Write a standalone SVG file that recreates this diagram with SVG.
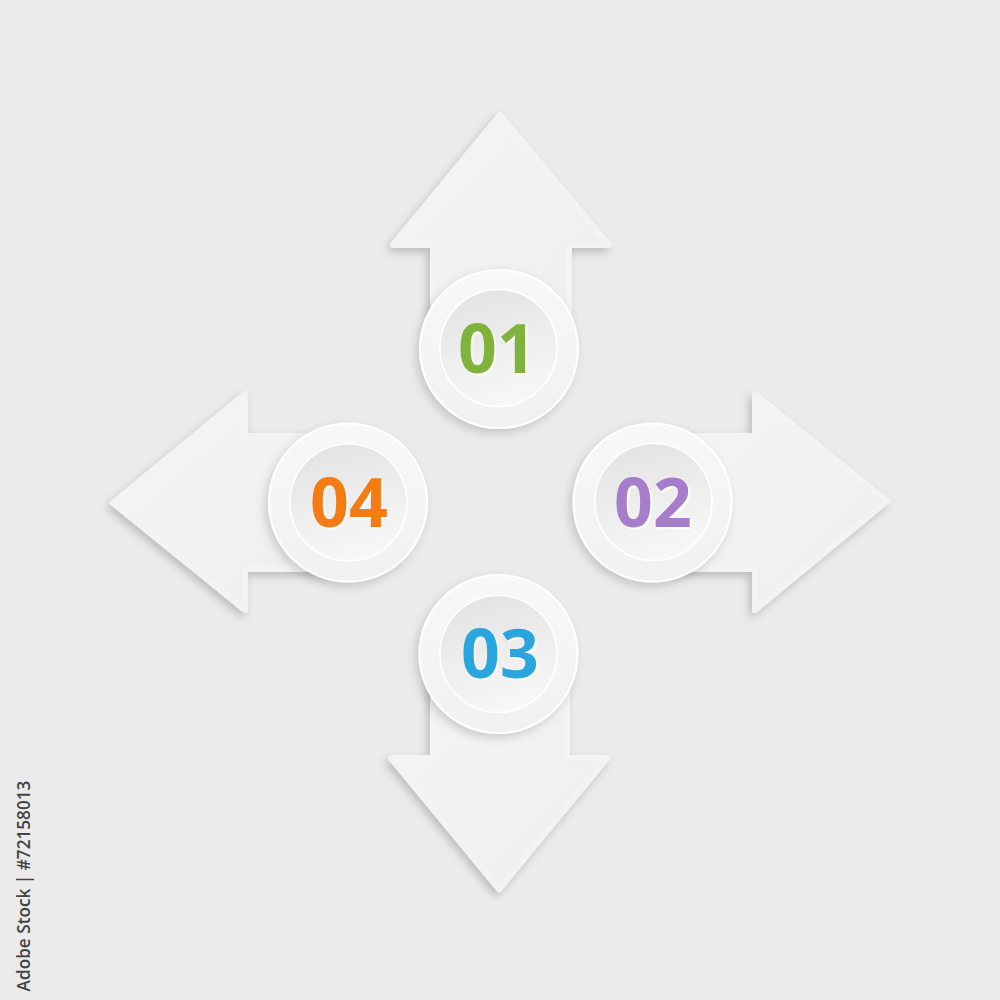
<svg xmlns="http://www.w3.org/2000/svg" width="1000" height="1000" viewBox="0 0 1000 1000">
<defs>
  <linearGradient id="gArrow" x1="0" y1="0" x2="1" y2="1">
    <stop offset="0" stop-color="#f5f5f5"/>
    <stop offset="1" stop-color="#eeeeee"/>
  </linearGradient>
  <linearGradient id="gOuter" x1="0" y1="0" x2="0" y2="1">
    <stop offset="0" stop-color="#f8f8f8"/>
    <stop offset="1" stop-color="#f1f1f1"/>
  </linearGradient>
  <linearGradient id="gInner" x1="0.3" y1="0" x2="0.6" y2="1">
    <stop offset="0" stop-color="#e3e3e3"/>
    <stop offset="1" stop-color="#f8f8f8"/>
  </linearGradient>
  <filter id="shadow" x="-30%" y="-30%" width="160%" height="160%">
    <feDropShadow dx="-3" dy="4" stdDeviation="4" flood-color="#000" flood-opacity="0.2"/>
  </filter>
  <filter id="cshadow" x="-30%" y="-30%" width="160%" height="160%">
    <feDropShadow dx="-3" dy="4" stdDeviation="5" flood-color="#000" flood-opacity="0.16"/>
  </filter>
</defs>
<style>
  .arrow { fill: url(#gArrow); stroke: #f3f3f3; stroke-width: 6; stroke-linejoin: round; filter: url(#shadow); }
  .outer { fill: url(#gOuter); stroke: #ffffff; stroke-width: 2; filter: url(#cshadow); }
  .inner { fill: url(#gInner); stroke: #ffffff; stroke-width: 1.5; }
  .num { font-family: "Open Sans", "DejaVu Sans", sans-serif; font-weight: 700; font-size: 68px; text-anchor: middle; }
  .hl { fill: #ffffff; }
  .caption { font-family: "Open Sans", "DejaVu Sans", sans-serif; font-size: 17.2px; font-weight: 600; fill: #444444; text-anchor: middle; }
</style>
<rect x="0" y="0" width="1000" height="1000" fill="#ebebeb"/>

<g id="connectors">
  <path id="arrow-up" class="arrow" d="M500,115 L609,245 L569,245 L569,340 L433,340 L433,245 L393,245 Z"/>
  <path id="arrow-right" class="arrow" d="M887,501 L755,394 L755,436 L650,436 L650,569 L755,569 L755,610 Z"/>
  <path id="arrow-down" class="arrow" d="M499,889 L607,758 L567,758 L567,660 L433,660 L433,758 L391,758 Z"/>
  <path id="arrow-left" class="arrow" d="M113,503 L245,394 L245,436 L350,436 L350,569 L245,569 L245,610 Z"/>
</g>

<g id="node-01">
  <circle class="outer" cx="499" cy="349" r="79"/>
  <circle class="inner" cx="498.5" cy="348" r="58.5"/>
  <text class="num hl" x="499" y="375">01</text>
  <text class="num" x="497" y="373" fill="#7fb33c">01</text>
</g>
<g id="node-02">
  <circle class="outer" cx="652.5" cy="502.5" r="79"/>
  <circle class="inner" cx="653.5" cy="502" r="58.5"/>
  <text class="num hl" x="655" y="529">02</text>
  <text class="num" x="653" y="527" fill="#a57dcb">02</text>
</g>
<g id="node-03">
  <circle class="outer" cx="498.5" cy="654" r="79"/>
  <circle class="inner" cx="498.5" cy="654" r="58.5"/>
  <text class="num hl" x="502" y="680">03</text>
  <text class="num" x="500" y="678" fill="#2aa6de">03</text>
</g>
<g id="node-04">
  <circle class="outer" cx="348" cy="502.5" r="79"/>
  <circle class="inner" cx="348.5" cy="502.5" r="58.5"/>
  <text class="num hl" x="351" y="529">04</text>
  <text class="num" x="349" y="527" fill="#f57c14">04</text>
</g>

<text class="caption" transform="translate(30,886) rotate(-90)">Adobe Stock | #72158013</text>
</svg>
